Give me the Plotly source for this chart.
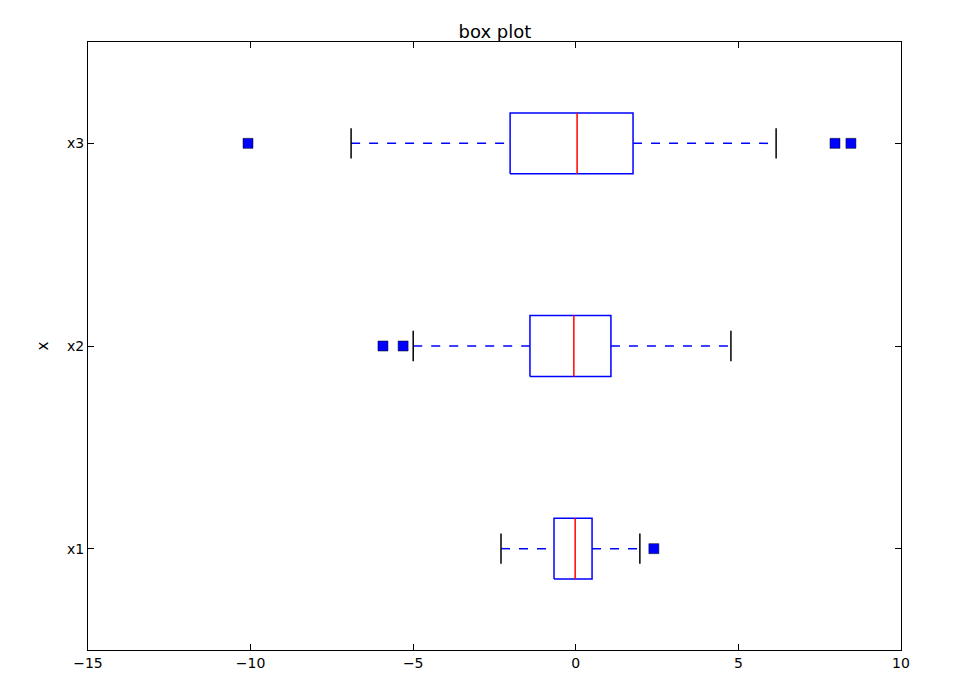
import plotly.graph_objects as go

labels = ["x1", "x2", "x3"]
positions = [1, 2, 3]
lower_whisker = [-2.30, -5.00, -6.91]
q1 = [-0.67, -1.41, -2.02]
median = [-0.02, -0.06, 0.04]
q3 = [0.50, 1.08, 1.76]
upper_whisker = [1.97, 4.77, 6.16]
outliers = [[2.40], [-5.93, -5.31], [-10.08, 7.97, 8.46]]

hw = 0.15
cw = 0.075
fig = go.Figure()
for i, p in enumerate(positions):
    fig.add_trace(go.Scatter(x=[q1[i], q3[i], q3[i], q1[i], q1[i]],
                             y=[p-hw, p-hw, p+hw, p+hw, p-hw], mode="lines",
                             line=dict(color="blue", width=1.5), showlegend=False))
    fig.add_trace(go.Scatter(x=[median[i], median[i]], y=[p-hw, p+hw], mode="lines",
                             line=dict(color="red", width=1.5), showlegend=False))
    fig.add_trace(go.Scatter(x=[lower_whisker[i], q1[i], None, q3[i], upper_whisker[i]],
                             y=[p, p, None, p, p], mode="lines",
                             line=dict(color="blue", width=1.5, dash="dash"), showlegend=False))
    fig.add_trace(go.Scatter(x=[lower_whisker[i], lower_whisker[i], None, upper_whisker[i], upper_whisker[i]],
                             y=[p-cw, p+cw, None, p-cw, p+cw], mode="lines",
                             line=dict(color="black", width=1.5), showlegend=False))
    fig.add_trace(go.Scatter(x=outliers[i], y=[p]*len(outliers[i]), mode="markers",
                             marker=dict(symbol="square", color="blue", size=10,
                                         line=dict(color="black", width=0.5)),
                             showlegend=False))

axis_common = dict(showgrid=False, zeroline=False, showline=True, linecolor="black",
                   linewidth=1, mirror="ticks", ticks="inside", ticklen=6,
                   tickcolor="black", tickfont=dict(size=14, color="black"))
fig.update_xaxes(range=[-15, 10], tickvals=[-15, -10, -5, 0, 5, 10], **axis_common)
fig.update_yaxes(range=[0.5, 3.5], tickvals=positions, ticktext=labels,
                 title=dict(text="x", font=dict(size=15, color="black"), standoff=14), **axis_common)
fig.update_layout(width=974, height=700, plot_bgcolor="white", paper_bgcolor="white",
                  font=dict(family="DejaVu Sans", color="black"),
                  title=dict(text="box plot", x=0.5, xanchor="center", y=0.975,
                             font=dict(size=18, color="black")),
                  margin=dict(l=80, r=81, t=34, b=58))
fig.write_html("out.html")
